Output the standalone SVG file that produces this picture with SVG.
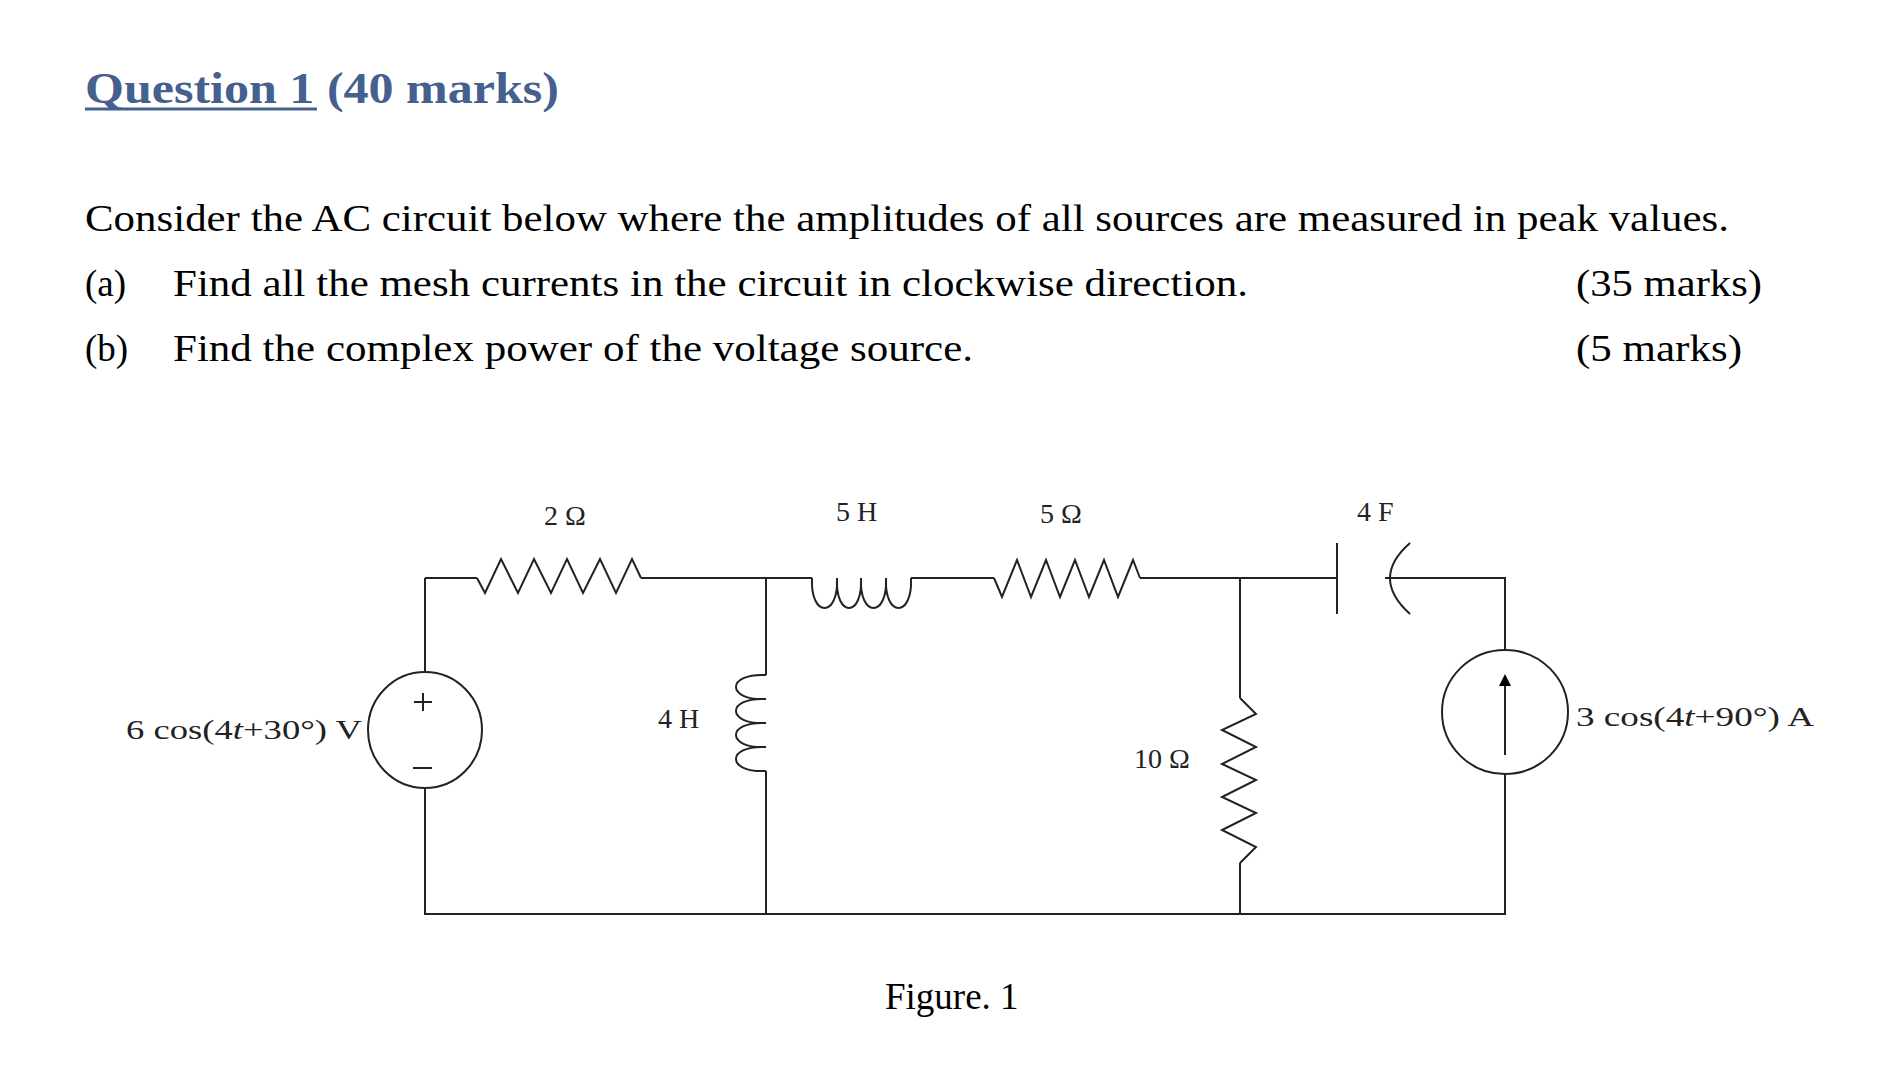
<svg xmlns="http://www.w3.org/2000/svg" width="1892" height="1074" viewBox="0 0 1892 1074">
<style>
.t{font-family:"Liberation Serif","Times New Roman",serif;fill:#000}
.w{fill:none;stroke:#222;stroke-width:2}
.lb{font-family:"Liberation Serif",serif;font-size:28px;fill:#222}
</style>
<defs><marker id="ah" markerWidth="12" markerHeight="12" refX="10" refY="6" orient="auto" markerUnits="userSpaceOnUse"><path d="M0,0 L12,6 L0,12 Z" fill="#000"/></marker></defs>
<rect width="1892" height="1074" fill="#fff"/>
<g id="title">
<text class="t" x="85" y="103" font-size="44" font-weight="bold" style="fill:#44608f" textLength="474" lengthAdjust="spacingAndGlyphs">Question 1 (40 marks)</text>
<line x1="85" y1="109" x2="317" y2="109" stroke="#44608f" stroke-width="3"/>
</g>
<g id="text">
<text class="t" x="85" y="231" font-size="37" textLength="1644" lengthAdjust="spacingAndGlyphs">Consider the AC circuit below where the amplitudes of all sources are measured in peak values.</text>
<text class="t" x="85" y="296" font-size="37">(a)</text>
<text class="t" x="173" y="296" font-size="37" textLength="1075" lengthAdjust="spacingAndGlyphs">Find all the mesh currents in the circuit in clockwise direction.</text>
<text class="t" x="1576" y="296" font-size="37" textLength="186" lengthAdjust="spacingAndGlyphs">(35 marks)</text>
<text class="t" x="85" y="361" font-size="37">(b)</text>
<text class="t" x="173" y="361" font-size="37" textLength="800" lengthAdjust="spacingAndGlyphs">Find the complex power of the voltage source.</text>
<text class="t" x="1576" y="361" font-size="37" textLength="166" lengthAdjust="spacingAndGlyphs">(5 marks)</text>
</g>
<g id="connectors">
<path class="w" d="M425 578 H477 M641 578 H812 M911 578 H994 M1140 578 H1337 M1385 578 H1505 V650 M1505 775 V914 H425 V788 M425 673 V578"/>
<path class="w" d="M766 578 V675 M766 771 V914 M1240 578 V698 M1240 863 V914"/>
</g>
<g id="r2">
<polyline class="w" points="477,578 485,593 501,559 518,593 534,559 551,593 567,559 583,593 600,559 616,593 632,559 641,578"/>
<text class="lb" x="544" y="525">2 Ω</text>
</g>
<g id="l5">
<path class="w" d="M812 578 C810 618 839 618 837 578 C835 618 863 618 861 578 C859 618 888 618 886 578 C884 618 913 618 911 578"/>
<text class="lb" x="836" y="521">5 H</text>
</g>
<g id="r5">
<polyline class="w" points="994,578 1002,597 1017,560 1031,597 1046,560 1060,597 1075,560 1089,597 1104,560 1118,597 1133,560 1140,578"/>
<text class="lb" x="1040" y="523">5 Ω</text>
</g>
<g id="c4">
<line class="w" x1="1337" y1="543" x2="1337" y2="614"/>
<path class="w" d="M1410 543 Q1370 578 1410 614"/>
<text class="lb" x="1357" y="521">4 F</text>
</g>
<g id="l4">
<path class="w" d="M766 675 C726 673 726 701 766 699 C726 697 726 725 766 723 C726 721 726 749 766 747 C726 745 726 773 766 771"/>
<text class="lb" x="658" y="728">4 H</text>
</g>
<g id="r10">
<polyline class="w" points="1240,698 1256,714 1222,730 1256,747 1222,764 1256,780 1222,797 1256,813 1222,830 1256,847 1240,863"/>
<text class="lb" x="1134" y="768">10 Ω</text>
</g>
<g id="vs">
<ellipse class="w" cx="425" cy="730" rx="57" ry="58"/>
<line class="w" x1="414" y1="702" x2="432" y2="702"/>
<line class="w" x1="423" y1="693" x2="423" y2="711"/>
<line class="w" x1="413" y1="768" x2="432" y2="768"/>
<text class="lb" x="126" y="739" textLength="236" lengthAdjust="spacingAndGlyphs">6 cos(4<tspan font-style="italic">t</tspan>+30°) V</text>
</g>
<g id="is">
<ellipse class="w" cx="1505" cy="712" rx="63" ry="62"/>
<line class="w" x1="1505" y1="755" x2="1505" y2="676" marker-end="url(#ah)"/>
<text class="lb" x="1576" y="726" textLength="238" lengthAdjust="spacingAndGlyphs">3 cos(4<tspan font-style="italic">t</tspan>+90°) A</text>
</g>
<text class="t" x="885" y="1009" font-size="37">Figure. 1</text>
</svg>
